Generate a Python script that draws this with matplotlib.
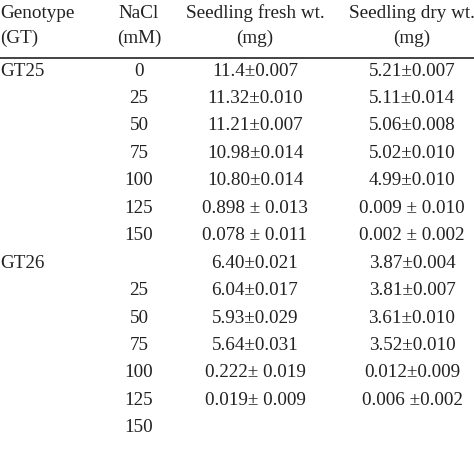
import matplotlib
matplotlib.use("Agg")
import matplotlib.pyplot as plt

genotypes = ["GT25", "", "", "", "", "", "", "GT26", "", "", "", "", "", ""]
nacl = ["0", "25", "50", "75", "100", "125", "150", "", "25", "50", "75", "100", "125", "150"]
fresh = ["11.4±0.007", "11.32±0.010", "11.21±0.007", "10.98±0.014", "10.80±0.014",
         "0.898 ± 0.013", "0.078 ± 0.011", "6.40±0.021", "6.04±0.017", "5.93±0.029",
         "5.64±0.031", "0.222± 0.019", "0.019± 0.009", ""]
dry = ["5.21±0.007", "5.11±0.014", "5.06±0.008", "5.02±0.010", "4.99±0.010",
       "0.009 ± 0.010", "0.002 ± 0.002", "3.87±0.004", "3.81±0.007", "3.61±0.010",
       "3.52±0.010", "0.012±0.009", "0.006 ±0.002", ""]

W, H = 474, 467
fig = plt.figure(figsize=(W/100, H/100), dpi=100)
ax = fig.add_axes([0, 0, 1, 1])
ax.set_xlim(0, W); ax.set_ylim(H, 0); ax.axis("off")
kw = dict(family="Liberation Serif", fontsize=13.8, color="#222222", va="center")

ax.text(0, 13, "Genotype", ha="left", **kw)
ax.text(0, 38, "(GT)", ha="left", **kw)
ax.text(139, 13, "NaCl", ha="center", **kw)
ax.text(139, 38, "(mM)", ha="center", **kw)
ax.text(255, 13, "Seedling fresh wt.", ha="center", **kw)
ax.text(255, 38, "(mg)", ha="center", **kw)
ax.text(412, 13, "Seedling dry wt.", ha="center", **kw)
ax.text(412, 38, "(mg)", ha="center", **kw)
ax.plot([0, W], [58, 58], color="#222222", lw=1.2)

y0, dy = 71, 27.45
for i in range(len(nacl)):
    y = y0 + i*dy
    if genotypes[i]:
        ax.text(0, y, genotypes[i], ha="left", **kw)
    ax.text(139, y, nacl[i], ha="center", **kw)
    ax.text(255, y, fresh[i], ha="center", **kw)
    ax.text(412, y, dry[i], ha="center", **kw)

fig.savefig("out.png", dpi=100)
